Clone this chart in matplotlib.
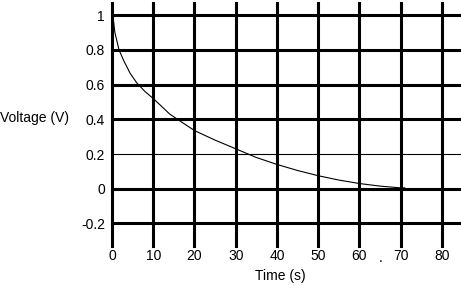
import matplotlib
matplotlib.use('Agg')
import matplotlib.pyplot as plt
import numpy as np

plt.rcParams['font.family'] = ['Liberation Sans', 'DejaVu Sans']

# discharge curve
time_s = [0.3, 0.7, 1.2, 1.7, 2.9, 4.4, 6, 8, 10, 14, 20, 25, 30, 35, 40,
          45, 50, 55, 60, 65, 70, 71]
voltage = [0.98, 0.9, 0.85, 0.8, 0.735, 0.665, 0.61, 0.56, 0.52, 0.43, 0.335,
           0.28, 0.23, 0.18, 0.14, 0.105, 0.075, 0.05, 0.03, 0.015, 0.005, 0.005]

x_ticks = [0, 10, 20, 30, 40, 50, 60, 70, 80]
y_ticks = [-0.2, 0, 0.2, 0.4, 0.6, 0.8, 1]
y_labels = ['-0.2', '0', '0.2', '0.4', '0.6', '0.8', '1']

W, H = 461, 286


def main():
    fig = plt.figure(figsize=(W / 100, H / 100), dpi=100)
    # axes box in pixels: left 112, right 460, top 3, bottom 246
    ax = fig.add_axes([112 / W, 1 - 246 / H, (460 - 112) / W, (246 - 3) / H])

    ax.plot(time_s, voltage, color='black', lw=0.8)

    ax.set_xlim(0, 84.4)
    ax.set_ylim(-0.33, 1.07)
    ax.set_xticks(x_ticks)
    ax.set_yticks(y_ticks)
    ax.set_yticklabels(y_labels)
    ax.tick_params(length=0, labelsize=10, colors='black')
    ax.tick_params(axis='y', pad=5)
    ax.tick_params(axis='x', pad=2)

    ax.grid(True, color='black', lw=2.2)
    for val, gl in zip(y_ticks, ax.get_ygridlines()):
        if val == 0.2:
            gl.set_linewidth(0.8)
    for gl in ax.get_xgridlines() + ax.get_ygridlines():
        gl.set_clip_on(False)
    ax.set_axisbelow(True)

    for s in ax.spines.values():
        s.set_visible(False)

    fig.text(0, 1 - 118 / H, 'Voltage (V)', fontsize=10, va='center', ha='left')
    fig.text(280 / W, 1 - 276 / H, 'Time (s)', fontsize=10, va='center', ha='center')
    fig.text(381 / W, 1 - 258 / H, '.', fontsize=10, va='center', ha='center')

    fig.savefig('out.png', dpi=100)
    plt.close()


if __name__ == "__main__":
    main()
